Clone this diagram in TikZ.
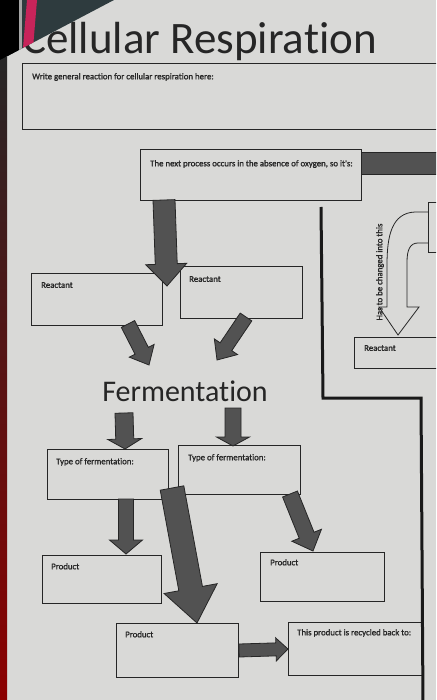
\documentclass[tikz,border=0pt]{standalone}
\usepackage{fontspec}
\setmainfont{Carlito}[Ligatures = NoCommon]
\newfontfamily\tagfont{Carlito}[Ligatures = NoCommon, FakeBold = 1.2]
\usetikzlibrary{calc}

\definecolor{paper}{HTML}{D9D9D7}
\definecolor{ink}{HTML}{262626}
\definecolor{arrowgray}{HTML}{525252}
\definecolor{cornerteal}{HTML}{2E3B3E}
\definecolor{coverpink}{HTML}{C8245A}

\tikzset{sheetbox/.style = {draw = ink,
                            fill = paper,
                            line width = 1pt,
                            anchor = north west,
                            inner sep = 0pt},
         boxtag/.style = {anchor = north west,
                          inner sep = 0pt,
                          text = ink,
                          font = \tagfont\fontsize{8.8}{10}\selectfont},
         arrowbody/.style = {fill = arrowgray,
                             draw = ink,
                             line width = 0.8pt,
                             line join = miter}}

% block arrow: tail, tip, half shaft, half head, head length
\newcommand{\blockarrow}[5]{%
  \coordinate (ba) at ($(#2)!#5!(#1)$);
  \filldraw[arrowbody] ($(#1)!#3!90:(#2)$) -- ($(ba)!#3!90:(#2)$) -- ($(ba)!#4!90:(#2)$) -- (#2)
    -- ($(ba)!#4!-90:(#2)$) -- ($(ba)!#3!-90:(#2)$) -- ($(#1)!#3!-90:(#2)$) -- cycle;}

\begin{document}
\begin{tikzpicture}[x = 1pt, y = -1pt]
		\useasboundingbox (0,0) rectangle (436,700);
		\clip (0,0) rectangle (436,700);
		\fill[paper] (0,0) rectangle (436,700);
		\shade[top color = black!85, bottom color = red!55!black] (0,58) rectangle (7,700);
		% title
		\node[anchor = base west, inner sep = 0pt, text = ink,
		      font = \fontsize{45}{50}\selectfont] (title) at (22,54) {Cellular Respiration};
		\begin{scope}
			\clip (0,0) -- (114,0) -- (0,60) -- cycle;
			\fill[cornerteal] (0,0) rectangle (114,60);
			\fill[black] (0,0) rectangle (19,60);
			\fill[gray!70] (19,0) rectangle (22,60);
			\fill[coverpink] (27,0) -- (37,0) -- (32,60) -- (22,60) -- cycle;
		\end{scope}
		% boxes
		\node[sheetbox, minimum width = 430pt, minimum height = 66pt] (genbox) at (22,63) {};
		\filldraw[arrowbody] (350,152) rectangle (450,174);
		\node[sheetbox, minimum width = 221pt, minimum height = 51pt] (nextbox) at (140,149) {};
		\node[sheetbox, minimum width = 131pt, minimum height = 52pt] (reacL) at (31,273) {};
		\node[sheetbox, minimum width = 122pt, minimum height = 52pt] (reacR) at (180,266) {};
		\node[sheetbox, minimum width = 121pt, minimum height = 50pt] (typeL) at (47,449) {};
		\node[sheetbox, minimum width = 122pt, minimum height = 49pt] (typeR) at (178,445) {};
		\node[sheetbox, minimum width = 119pt, minimum height = 48pt] (prodL) at (42,555) {};
		\node[sheetbox, minimum width = 124pt, minimum height = 49pt] (prodR) at (260,552) {};
		\node[sheetbox, minimum width = 122pt, minimum height = 54pt] (prodB) at (116,623) {};
		\node[sheetbox, minimum width = 134pt, minimum height = 53pt] (recyc) at (288,622) {};
		% box texts
		\node[boxtag] (gentxt) at ([shift = {(10,10)}]genbox.north west) {Write general reaction for cellular respiration here:};
		\node[boxtag] (nexttxt) at ([shift = {(10,11)}]nextbox.north west) {The next process occurs in the absence of oxygen, so it's:};
		\node[boxtag] (reacLtxt) at ([shift = {(10,9)}]reacL.north west) {Reactant};
		\node[boxtag] (reacRtxt) at ([shift = {(9,10)}]reacR.north west) {Reactant};
		\node[boxtag] (typeLtxt) at ([shift = {(9,9)}]typeL.north west) {Type of fermentation:};
		\node[boxtag] (typeRtxt) at ([shift = {(10,9)}]typeR.north west) {Type of fermentation:};
		\node[boxtag] (prodLtxt) at ([shift = {(9,8)}]prodL.north west) {Product};
		\node[boxtag] (prodRtxt) at ([shift = {(10,7)}]prodR.north west) {Product};
		\node[boxtag] (prodBtxt) at ([shift = {(9,8)}]prodB.north west) {Product};
		\node[boxtag] (recyctxt) at ([shift = {(9,7)}]recyc.north west) {This product is recycled back to:};
		\node[anchor = base, inner sep = 0pt, text = ink,
		      font = \fontsize{30}{34}\selectfont] (ferm) at (185,401) {Fermentation};
		% arrows
		\coordinate (gaptail) at (164,200);
		\coordinate (gaptip) at (167,286);
		\blockarrow{gaptail}{gaptip}{11pt}{20.5pt}{22pt}
		\coordinate (reacLtail) at (128,324);
		\coordinate (reacLtip) at (149,365);
		\blockarrow{reacLtail}{reacLtip}{7.5pt}{14pt}{16pt}
		\coordinate (reacRtail) at (246,317);
		\coordinate (reacRtip) at (217,360);
		\blockarrow{reacRtail}{reacRtip}{7pt}{14pt}{16pt}
		\coordinate (fermLtail) at (124,413);
		\coordinate (fermLtip) at (125,449);
		\blockarrow{fermLtail}{fermLtip}{9pt}{17pt}{10pt}
		\coordinate (fermRtail) at (233,408);
		\coordinate (fermRtip) at (233,446);
		\blockarrow{fermRtail}{fermRtip}{8pt}{16.5pt}{9pt}
		\coordinate (typeLtail) at (126,499);
		\coordinate (typeLtip) at (126,554);
		\blockarrow{typeLtail}{typeLtip}{7.5pt}{16.5pt}{14pt}
		\coordinate (bigtail) at (172,488);
		\coordinate (bigtip) at (197,623);
		\blockarrow{bigtail}{bigtip}{12pt}{27pt}{35pt}
		\coordinate (typeRtail) at (290,494);
		\coordinate (typeRtip) at (313,551);
		\blockarrow{typeRtail}{typeRtip}{8pt}{16pt}{17pt}
		\blockarrow{prodB.east}{recyc.west}{6.5pt}{11.5pt}{12pt}
		% right hand part
		\draw[line width = 3pt, draw = black!90] (321,207) -- (323,398) -- (421,398) -- (423,705);
		\node[font = \tagfont\fontsize{8.8}{10}\selectfont, text = ink, rotate = 90, inner sep = 0pt] (hastxt) at (380,272) {Has to be changed into this};
		\draw[draw = ink, line width = 0.8pt, line join = miter] (430,212) -- (415,212)
		      .. controls (392,213) and (387,235) .. (387,265) -- (387,307) -- (379,307) -- (398,335)
		      -- (419,307) -- (407,307) -- (407,262) .. controls (407,250) and (410,243) .. (418,243) -- (430,243);
		\node[sheetbox, minimum width = 30pt, minimum height = 50pt] (sidebox) at (428,202) {};
		\node[sheetbox, minimum width = 100pt, minimum height = 31pt] (reacRR) at (354,337) {};
		\node[boxtag] (reacRRtxt) at ([shift = {(10,8)}]reacRR.north west) {Reactant};
	\end{tikzpicture}
\end{document}
